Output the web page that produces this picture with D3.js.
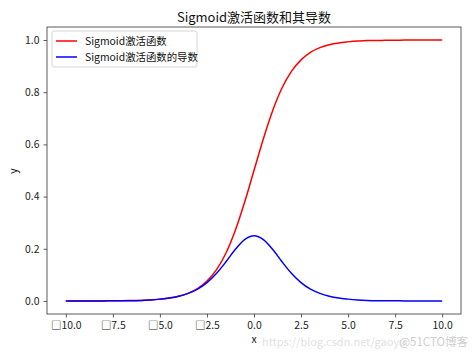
<!DOCTYPE html>
<html>
<head>
<meta charset="utf-8">
<script src="https://cdn.jsdelivr.net/npm/d3@7"></script>
<style>
  body { margin: 0; background: #fff; }
  text { font-family: "Noto Sans CJK SC", "DejaVu Sans", sans-serif; }
</style>
</head>
<body>
<svg id="chart" width="474" height="355"></svg>
<script>
// values, every 0.5 on x
const xs = [-10, -9.5, -9, -8.5, -8, -7.5, -7, -6.5, -6, -5.5, -5, -4.5, -4, -3.5, -3, -2.5, -2, -1.5, -1, -0.5,
    0, 0.5, 1, 1.5, 2, 2.5, 3, 3.5, 4, 4.5, 5, 5.5, 6, 6.5, 7, 7.5, 8, 8.5, 9, 9.5, 10];
const sigmoidVals = [0.000, 0.000, 0.000, 0.000, 0.000, 0.001, 0.001, 0.002, 0.002, 0.004, 0.007, 0.011, 0.018, 0.029, 0.047, 0.076, 0.119, 0.182, 0.269, 0.378,
    0.500, 0.622, 0.731, 0.818, 0.881, 0.924, 0.953, 0.971, 0.982, 0.989, 0.993, 0.996, 0.998, 0.998, 0.999, 0.999, 1.000, 1.000, 1.000, 1.000, 1.000];
const derivVals = [0.000, 0.000, 0.000, 0.000, 0.000, 0.001, 0.001, 0.001, 0.002, 0.004, 0.007, 0.011, 0.018, 0.029, 0.045, 0.070, 0.105, 0.149, 0.197, 0.235,
    0.250, 0.235, 0.197, 0.149, 0.105, 0.070, 0.045, 0.029, 0.018, 0.011, 0.007, 0.004, 0.002, 0.001, 0.001, 0.001, 0.000, 0.000, 0.000, 0.000, 0.000];
const xTicks = [-10, -7.5, -5, -2.5, 0, 2.5, 5, 7.5, 10];
const yTicks = [0, 0.2, 0.4, 0.6, 0.8, 1.0];
const seriesNames = ["Sigmoid激活函数", "Sigmoid激活函数的导数"];
const seriesColors = ["#ff0000", "#0000ff"];

const margin = {left: 47, right: 13, top: 27, bottom: 41};
const W = 474, H = 355;
const svg = d3.select("#chart");

const x = d3.scaleLinear().domain([-11, 11]).range([margin.left, W - margin.right]);
const y = d3.scaleLinear().domain([-0.05, 1.05]).range([H - margin.bottom, margin.top]);

// minus sign shows as a missing-glyph box in the original
const fmtX = d => (d < 0 ? "\u25A1" : "") + Math.abs(d).toFixed(1);

const xAxis = svg.append("g")
    .attr("transform", `translate(0,${H - margin.bottom})`)
    .call(d3.axisBottom(x).tickValues(xTicks).tickFormat(fmtX).tickSizeOuter(0).tickSize(3.5).tickPadding(4));
const yAxis = svg.append("g")
    .attr("transform", `translate(${margin.left},0)`)
    .call(d3.axisLeft(y).tickValues(yTicks).tickFormat(d3.format(".1f")).tickSizeOuter(0).tickSize(3.5).tickPadding(4));
[xAxis, yAxis].forEach(g => {
    g.select(".domain").remove();
    g.selectAll("line").attr("stroke", "#333").attr("stroke-width", 0.8);
    g.selectAll("text").attr("fill", "#222").style("font-size", "10.4px");
});

const line = d3.line().x(d => x(d[0])).y(d => y(d[1])).curve(d3.curveMonotoneX);
[sigmoidVals, derivVals].forEach((vals, i) => {
    svg.append("path")
        .datum(xs.map((v, j) => [v, vals[j]]))
        .attr("fill", "none")
        .attr("stroke", seriesColors[i])
        .attr("stroke-width", 1.5)
        .attr("d", line);
});

// frame
svg.append("rect")
    .attr("x", margin.left).attr("y", margin.top)
    .attr("width", W - margin.left - margin.right)
    .attr("height", H - margin.top - margin.bottom)
    .attr("fill", "none").attr("stroke", "#333").attr("stroke-width", 0.8);

svg.append("text").attr("x", 254).attr("y", 22).attr("text-anchor", "middle")
    .style("font-size", "13px").attr("fill", "#111").text("Sigmoid激活函数和其导数");
svg.append("text").attr("x", 254).attr("y", 343).attr("text-anchor", "middle")
    .style("font-size", "10.4px").attr("fill", "#111").text("x");
svg.append("text").attr("transform", "translate(17,171) rotate(-90)").attr("text-anchor", "middle")
    .style("font-size", "10.4px").attr("fill", "#111").text("y");

// legend
const lg = svg.append("g").attr("transform", "translate(52,31)");
lg.append("rect").attr("width", 145).attr("height", 36).attr("rx", 2)
    .attr("fill", "#fff").attr("fill-opacity", 0.8).attr("stroke", "#ccc").attr("stroke-width", 0.8);
seriesNames.forEach((name, i) => {
    const yy = 10 + i * 16;
    lg.append("line").attr("x1", 4).attr("x2", 25).attr("y1", yy).attr("y2", yy)
        .attr("stroke", seriesColors[i]).attr("stroke-width", 1.5);
    lg.append("text").attr("x", 33).attr("y", yy + 3.6)
        .style("font-size", "10.4px").attr("fill", "#111").text(name);
});

// watermarks
svg.append("text").attr("x", 262).attr("y", 346).style("font-size", "11px")
    .attr("fill", "#e2e2e2").text("https://blog.csdn.net/gaoyu");
svg.append("text").attr("x", 468).attr("y", 346).attr("text-anchor", "end").style("font-size", "11.5px")
    .attr("fill", "#cfcfcf").text("@51CTO博客");
</script>
</body>
</html>
